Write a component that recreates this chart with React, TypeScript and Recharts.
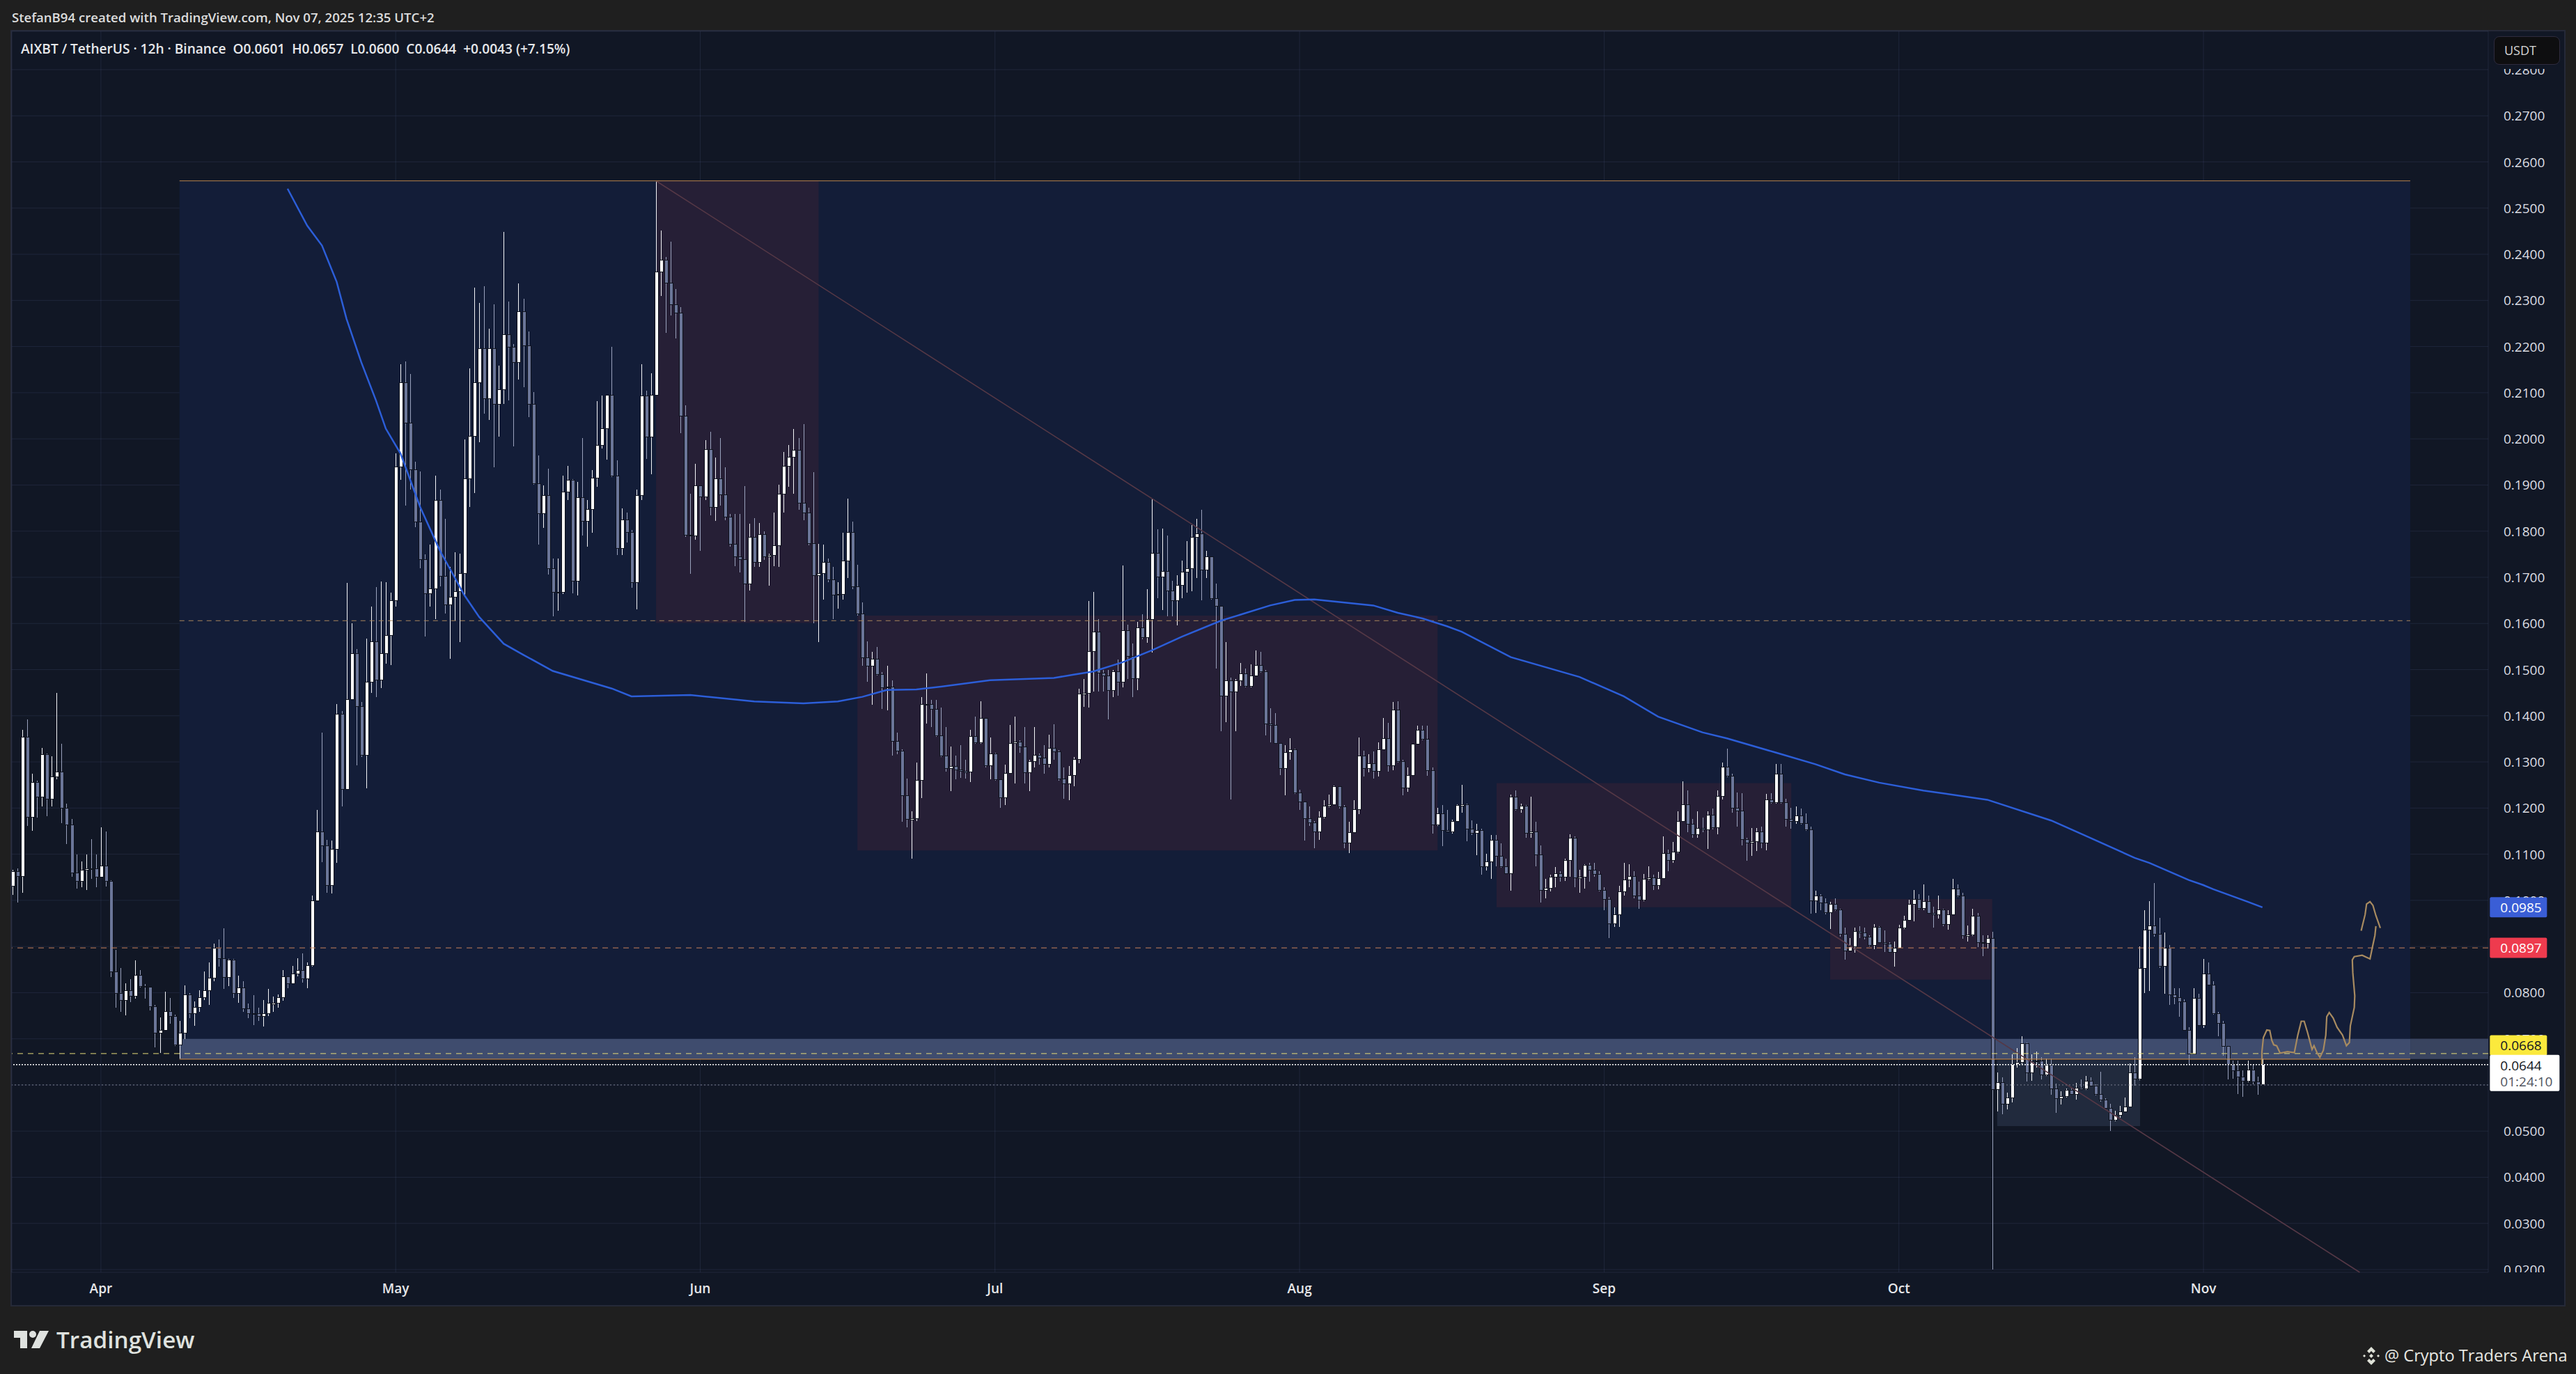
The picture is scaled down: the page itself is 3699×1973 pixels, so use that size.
import React from 'react';
import {
  ComposedChart, XAxis, YAxis, CartesianGrid, Bar, Line,
  ReferenceArea, ReferenceLine, ReferenceDot,
} from 'recharts';

// AIXBT / USDT 12h candles, one per index. open = previous close.
const firstOpen = 0.1030;
const closes = [
  .1063,.1052,.1354,.1180,.1256,.1224,.1316,.1220,.1267,.1278,
  .1200,.1164,.1060,.1042,.1066,.1069,.1068,.1051,.1074,.1042,
  .0845,.0799,.0784,.0805,.0793,.0837,.0814,.0812,.0770,.0712,
  .0719,.0759,.0748,.0686,.0712,.0796,.0755,.0768,.0789,.0804,
  .0831,.0896,.0874,.0833,.0871,.0798,.0810,.0765,.0755,.0754,
  .0748,.0755,.0777,.0777,.0790,.0834,.0820,.0840,.0848,.0830,
  .0858,.0999,.1148,.1118,.1032,.1110,.1403,.1240,.1435,.1534,
  .1420,.1315,.1473,.1560,.1477,.1534,.1574,.1650,.1939,.2121,
  .2034,.1933,.1820,.1738,.1664,.1675,.1867,.1702,.1641,.1657,
  .1669,.1709,.1914,.2005,.2121,.2195,.2087,.2195,.2075,.2107,
  .2226,.2199,.2166,.2276,.2201,.2075,.1903,.1838,.1877,.1719,
  .1668,.1668,.1885,.1910,.1691,.1872,.1821,.1847,.1915,.1986,
  .2022,.2094,.1919,.1762,.1825,.1797,.1688,.1877,.2093,.2004,
  .2095,.2361,.2388,.2338,.2290,.2272,.2049,.1792,.1789,.1899,
  .1874,.1977,.1852,.1914,.1879,.1830,.1771,.1744,.1738,.1686,
  .1787,.1732,.1793,.1744,.1747,.1768,.1881,.1940,.1960,.1975,
  .1861,.1839,.1773,.1704,.1709,.1732,.1695,.1661,.1663,.1736,
  .1798,.1680,.1621,.1525,.1508,.1522,.1489,.1461,.1463,.1345,
  .1324,.1227,.1175,.1177,.1260,.1424,.1425,.1414,.1356,.1313,
  .1285,.1291,.1282,.1279,.1278,.1355,.1342,.1394,.1292,.1317,
  .1261,.1223,.1275,.1340,.1343,.1333,.1277,.1301,.1315,.1308,
  .1295,.1330,.1322,.1263,.1253,.1271,.1305,.1447,.1448,.1540,
  .1581,.1493,.1486,.1454,.1495,.1473,.1584,.1528,.1481,.1590,
  .1570,.1608,.1752,.1700,.1713,.1671,.1649,.1682,.1712,.1719,
  .1786,.1795,.1716,.1744,.1654,.1637,.1442,.1476,.1452,.1476,
  .1491,.1464,.1486,.1509,.1496,.1383,.1380,.1340,.1285,.1320,
  .1326,.1233,.1213,.1177,.1168,.1148,.1180,.1204,.1208,.1246,
  .1202,.1125,.1147,.1197,.1313,.1285,.1296,.1279,.1327,.1350,
  .1292,.1412,.1301,.1243,.1271,.1339,.1369,.1349,.1281,.1164,
  .1188,.1152,.1149,.1171,.1206,.1207,.1154,.1146,.1151,.1073,
  .1083,.1130,.1096,.1073,.1058,.1224,.1196,.1205,.1146,.1149,
  .1099,.1022,.1026,.1051,.1058,.1051,.1086,.1135,.1049,.1050,
  .1076,.1065,.1056,.1021,.1002,.0949,.0969,.1019,.1044,.1052,
  .1009,.1001,.1046,.1049,.1032,.1047,.1101,.1087,.1104,.1171,
  .1208,.1165,.1143,.1156,.1153,.1185,.1157,.1225,.1289,.1269,
  .1200,.1194,.1132,.1124,.1128,.1148,.1124,.1218,.1212,.1274,
  .1212,.1176,.1171,.1183,.1166,.1153,.0999,.1010,.0994,.0974,
  .0992,.0979,.0927,.0891,.0899,.0932,.0930,.0920,.0903,.0941,
  .0908,.0905,.0888,.0897,.0940,.0957,.0991,.1002,.0983,.0997,
  .0972,.0969,.0979,.0947,.0969,.1024,.1010,.0923,.0925,.0966,
  .0909,.0907,.0917,.0590,.0605,.0559,.0572,.0645,.0649,.0689,
  .0627,.0650,.0652,.0622,.0643,.0591,.0571,.0575,.0588,.0580,
  .0593,.0592,.0608,.0598,.0579,.0567,.0549,.0523,.0534,.0542,
  .0553,.0626,.0613,.0852,.0935,.0945,.0926,.0857,.0896,.0796,
  .0790,.0780,.0719,.0667,.0788,.0729,.0840,.0817,.0754,.0734,
  .0683,.0645,.0631,.0617,.0608,.0633,.0606,.0601,.0644,
];
const highs = [
  .1066,.1069,.1369,.1392,.1274,.1259,.1330,.1318,.1312,.1449,
  .1339,.1209,.1176,.1099,.1085,.1100,.1132,.1100,.1158,.1149,
  .1043,.0892,.0853,.0820,.0829,.0870,.0849,.0818,.0813,.0773,
  .0746,.0802,.0788,.0752,.0738,.0816,.0799,.0781,.0805,.0846,
  .0866,.0906,.0915,.0940,.0873,.0873,.0837,.0824,.0776,.0795,
  .0767,.0784,.0808,.0792,.0796,.0849,.0836,.0858,.0874,.0885,
  .0866,.1010,.1196,.1363,.1131,.1129,.1426,.1410,.1688,.1600,
  .1545,.1430,.1567,.1636,.1679,.1691,.1690,.1667,.1968,.2161,
  .2168,.2141,.1950,.1930,.1750,.1771,.1921,.1890,.1827,.1722,
  .1755,.1751,.1998,.2152,.2327,.2294,.2330,.2238,.2291,.2159,
  .2448,.2298,.2206,.2337,.2303,.2233,.2101,.1964,.1899,.1935,
  .1740,.1740,.1921,.1942,.1913,.1906,.2002,.1867,.1933,.2082,
  .2094,.2095,.2199,.1953,.1849,.1840,.1802,.1890,.2161,.2105,
  .2142,.2558,.2451,.2394,.2428,.2325,.2285,.2072,.1881,.1946,
  .1899,.1997,.2015,.1959,.2002,.1939,.1838,.1838,.1838,.1897,
  .1816,.1828,.1818,.1800,.1751,.1840,.1901,.1971,.1986,.2022,
  .2002,.2032,.1851,.1928,.1773,.1771,.1740,.1722,.1690,.1797,
  .1871,.1821,.1727,.1646,.1561,.1538,.1549,.1495,.1508,.1476,
  .1364,.1327,.1264,.1193,.1299,.1440,.1492,.1435,.1435,.1418,
  .1375,.1333,.1314,.1336,.1305,.1369,.1398,.1431,.1395,.1353,
  .1320,.1262,.1294,.1380,.1398,.1347,.1375,.1305,.1375,.1318,
  .1336,.1359,.1382,.1326,.1288,.1291,.1310,.1459,.1479,.1649,
  .1668,.1609,.1499,.1499,.1499,.1522,.1726,.1597,.1557,.1603,
  .1620,.1675,.1869,.1804,.1805,.1791,.1693,.1704,.1736,.1778,
  .1813,.1827,.1846,.1757,.1745,.1687,.1638,.1559,.1482,.1479,
  .1514,.1502,.1511,.1541,.1539,.1499,.1416,.1405,.1340,.1337,
  .1352,.1329,.1239,.1213,.1204,.1172,.1193,.1217,.1229,.1249,
  .1248,.1207,.1170,.1217,.1353,.1324,.1317,.1323,.1343,.1395,
  .1384,.1430,.1432,.1305,.1288,.1340,.1378,.1378,.1378,.1288,
  .1201,.1207,.1196,.1175,.1208,.1250,.1209,.1173,.1166,.1155,
  .1101,.1141,.1141,.1123,.1091,.1229,.1238,.1210,.1207,.1224,
  .1170,.1119,.1047,.1055,.1072,.1063,.1091,.1143,.1138,.1066,
  .1079,.1082,.1082,.1063,.1029,.1007,.0985,.1032,.1081,.1078,
  .1063,.1041,.1057,.1074,.1055,.1061,.1139,.1110,.1126,.1193,
  .1258,.1238,.1176,.1193,.1179,.1193,.1199,.1238,.1298,.1329,
  .1274,.1233,.1232,.1136,.1157,.1157,.1160,.1230,.1232,.1295,
  .1295,.1220,.1201,.1204,.1199,.1188,.1160,.1021,.1013,.1004,
  .0997,.1004,.0982,.0941,.0919,.0941,.0944,.0941,.0925,.0948,
  .0944,.0935,.0910,.0911,.0947,.0966,.1002,.1022,.1013,.1035,
  .1010,.0986,.1010,.0982,.0979,.1047,.1035,.1016,.0945,.0982,
  .0973,.0924,.0924,.0932,.0627,.0617,.0584,.0667,.0680,.0705,
  .0692,.0667,.0672,.0660,.0657,.0657,.0603,.0587,.0592,.0592,
  .0604,.0612,.0620,.0617,.0602,.0628,.0571,.0559,.0544,.0554,
  .0572,.0647,.0660,.0900,.0978,.0998,.1037,.0962,.0931,.0903,
  .0809,.0809,.0786,.0725,.0809,.0798,.0873,.0865,.0824,.0758,
  .0738,.0685,.0652,.0653,.0632,.0653,.0645,.0618,.0657,
];
const lows = [
  .1012,.0995,.1017,.1161,.1150,.1179,.1204,.1183,.1204,.1262,
  .1168,.1122,.1051,.1025,.1029,.1023,.1047,.1029,.1050,.1030,
  .0834,.0768,.0759,.0751,.0780,.0787,.0811,.0787,.0762,.0681,
  .0669,.0719,.0733,.0685,.0657,.0699,.0745,.0728,.0758,.0784,
  .0774,.0824,.0857,.0808,.0814,.0789,.0778,.0758,.0745,.0730,
  .0738,.0726,.0749,.0759,.0768,.0782,.0809,.0819,.0835,.0822,
  .0809,.0857,.1002,.1083,.1016,.1015,.1082,.1203,.1240,.1434,
  .1293,.1310,.1242,.1450,.1440,.1460,.1513,.1510,.1636,.1911,
  .1856,.1890,.1809,.1719,.1571,.1637,.1610,.1680,.1621,.1524,
  .1607,.1560,.1657,.1852,.1882,.1993,.2054,.2041,.1939,.2005,
  .2076,.2083,.1984,.2128,.2112,.2047,.1901,.1771,.1807,.1706,
  .1616,.1628,.1663,.1867,.1666,.1661,.1791,.1767,.1796,.1896,
  .1979,.1955,.1917,.1749,.1749,.1776,.1677,.1630,.1867,.1957,
  .1923,.2095,.2309,.2230,.2267,.2217,.2013,.1787,.1708,.1781,
  .1758,.1867,.1834,.1822,.1856,.1823,.1766,.1724,.1711,.1603,
  .1672,.1722,.1722,.1737,.1682,.1724,.1722,.1841,.1896,.1881,
  .1846,.1823,.1769,.1601,.1560,.1652,.1690,.1610,.1632,.1652,
  .1698,.1675,.1617,.1508,.1473,.1424,.1487,.1415,.1412,.1314,
  .1317,.1170,.1158,.1091,.1172,.1222,.1383,.1375,.1355,.1311,
  .1279,.1236,.1262,.1265,.1264,.1256,.1340,.1340,.1288,.1262,
  .1259,.1200,.1206,.1274,.1253,.1320,.1253,.1236,.1288,.1294,
  .1274,.1288,.1305,.1260,.1220,.1217,.1248,.1297,.1420,.1418,
  .1453,.1453,.1453,.1392,.1441,.1444,.1461,.1479,.1441,.1456,
  .1565,.1558,.1537,.1655,.1629,.1616,.1616,.1596,.1655,.1667,
  .1670,.1698,.1650,.1698,.1652,.1502,.1366,.1386,.1219,.1366,
  .1464,.1461,.1461,.1485,.1493,.1357,.1343,.1339,.1271,.1227,
  .1305,.1230,.1196,.1130,.1161,.1113,.1131,.1178,.1202,.1207,
  .1199,.1113,.1102,.1147,.1187,.1268,.1278,.1264,.1268,.1327,
  .1279,.1282,.1298,.1227,.1235,.1270,.1339,.1347,.1270,.1144,
  .1161,.1118,.1147,.1144,.1170,.1190,.1128,.1141,.1098,.1055,
  .1064,.1047,.1073,.1071,.1057,.1021,.1195,.1190,.1135,.1136,
  .1073,.0996,.1005,.1019,.1029,.1041,.1042,.1051,.1029,.1016,
  .1026,.1041,.1051,.1019,.0979,.0919,.0942,.0943,.1011,.1029,
  .1005,.0982,.0999,.1044,.1022,.1024,.1046,.1063,.1082,.1102,
  .1171,.1148,.1135,.1136,.1148,.1111,.1154,.1143,.1218,.1267,
  .1190,.1160,.1119,.1086,.1096,.1107,.1113,.1109,.1210,.1210,
  .1209,.1160,.1155,.1166,.1165,.1151,.0971,.0972,.0979,.0969,
  .0938,.0977,.0922,.0871,.0890,.0886,.0919,.0916,.0900,.0894,
  .0907,.0888,.0886,.0857,.0897,.0938,.0957,.0954,.0980,.0979,
  .0971,.0941,.0960,.0944,.0937,.0969,.1007,.0917,.0911,.0923,
  .0899,.0879,.0895,.0200,.0542,.0537,.0547,.0562,.0637,.0645,
  .0607,.0609,.0637,.0612,.0620,.0579,.0539,.0557,.0572,.0579,
  .0568,.0589,.0589,.0597,.0578,.0564,.0548,.0500,.0522,.0529,
  .0541,.0552,.0599,.0611,.0799,.0804,.0921,.0854,.0797,.0774,
  .0775,.0748,.0718,.0645,.0666,.0728,.0723,.0816,.0753,.0705,
  .0663,.0612,.0613,.0581,.0574,.0606,.0601,.0579,.0600,
];

// slow moving average, read at its visible bends
const maKeys = [
  56,60,63,66,68,71,74,76,79,83,87,92,95,100,104,110,122,126,138,151,161,168,173,178,184,189,199,
  212,216,220,226,232,238,246,256,261,265,277,282,287,292,295,305,319,328,335,344,349,359,367,373,
  380,389,402,415,422,432,435,443,446,448,455,458,
];
const maValues = [
  .2542,.2462,.2419,.2340,.2260,.2166,.2083,.2022,.1968,.1852,.1758,.1661,.1614,.1556,.1532,.1497,.1459,.1442,.1445,.1431,.1427,.1431,.1441,.1456,.1457,.1463,.1477,
  .1482,.1489,.1496,.1516,.1542,.1571,.1606,.1639,.1651,.1652,.1639,.1623,.1611,.1594,.1582,.1527,.1484,.1442,.1398,.1364,.1351,.1320,.1295,.1273,
  .1255,.1238,.1218,.1173,.1140,.1092,.1081,.1044,.1033,.1024,.0997,.0985,
];

// hand drawn projection and its arrow head
const sketchKeys = [
  457.9,457.9,458.2,458.9,459.5,459.9,460.3,460.9,461.6,463.1,464.5,465.2,465.9,466.5,467.2,468.1,468.5,469.1,469.7,470.4,
  470.9,471.1,471.6,472.4,473.2,474.3,475.1,475.7,475.9,476.7,476.8,476.4,476.3,476.7,478.3,479.9,480.4,480.9,481.1,
];
const sketchValues = [
  .0645,.0672,.0703,.0719,.0718,.0697,.0687,.0685,.0669,.0672,.0670,.0708,.0738,.0738,.0713,.0677,.0685,.0670,.0660,.0675,
  .0708,.0748,.0757,.0745,.0725,.0708,.0685,.0692,.0728,.0768,.0793,.0843,.0871,.0878,.0881,.0873,.0899,.0924,.0944,
];
const arrowKeys = [478.1,478.9,479.2,479.9,480.5,481.1,482];
const arrowValues = [.0934,.0969,.0992,.0997,.0989,.0967,.0940];

const priceTicks = [
  .02,.03,.04,.05,.06,.07,.08,.09,.10,.11,.12,.13,.14,.15,.16,.17,.18,.19,.20,.21,.22,.23,.24,.25,.26,.27,.28,
];
const monthKeys = [18,78,140,200,262,324,384,446];
const monthLabels = ['Apr','May','Jun','Jul','Aug','Sep','Oct','Nov'];

// drawn zones: [from candle, to candle, top price, bottom price]
const pinkBoxes = [
  [131,164.1,.2559,.1601],
  [172,290.1,.1617,.1108],
  [302.1,362.1,.1254,.0985],
  [370,403,.1003,.0828],
];

const rows = closes.map((close, k) => ({
  k,
  open: k === 0 ? firstOpen : closes[k - 1],
  close,
  high: highs[k],
  low: lows[k],
  range: [lows[k], highs[k]],
}));
const maRows = maKeys.map((k, i) => ({ k, ma: maValues[i] }));
const sketchRows = sketchKeys.map((k, i) => ({ k, sketch: sketchValues[i] }));
const arrowRows = arrowKeys.map((k, i) => ({ k, sketch: arrowValues[i] }));

const FONT = '"Open Sans", sans-serif';
const AXIS_START = 504.3; // candle position of the price axis edge

function Candle(props: any) {
  const { x, y, width, height, payload } = props;
  const { open, close, high, low } = payload;
  const pxPerPrice = height / Math.max(high - low, 1e-6);
  const toY = (v: number) => y + (high - v) * pxPerPrice;
  const up = close >= open;
  const cx = Math.round(x + width / 2);
  const top = toY(Math.max(open, close));
  const bodyH = Math.max(Math.abs(open - close) * pxPerPrice, 1.5);
  return (
    <g shapeRendering="crispEdges">
      <rect x={cx} y={y} width={1} height={height} fill={up ? '#f4f5f8' : '#9aa2bd'} />
      <rect
        x={cx - 2} y={top} width={5} height={bodyH}
        fill={up ? '#ffffff' : '#6b7699'} stroke="#0e121c" strokeWidth={1}
      />
    </g>
  );
}

function PriceTick(props: any) {
  const { x, y, payload } = props;
  return (
    <text
      x={x} y={y} dy={7} fill="#dcdee3" fontSize={19} fontFamily={FONT}
      clipPath="url(#priceClip)"
    >
      {payload.value.toFixed(4)}
    </text>
  );
}

function tag(fill: string, color: string, text: string, shift = 0) {
  return (p: any) => (
    <g>
      <rect x={p.cx} y={p.cy - 14.5 + shift} width={82} height={29} rx={2} fill={fill} />
      <text x={p.cx + 15} y={p.cy + 7 + shift} fill={color} fontSize={19} fontFamily={FONT}>{text}</text>
    </g>
  );
}

function lastPriceTag(p: any) {
  return (
    <g>
      <rect x={p.cx} y={p.cy - 14} width={100} height={52} rx={2} fill="#ffffff" />
      <text x={p.cx + 15} y={p.cy + 8} fill="#131722" fontSize={19} fontFamily={FONT}>0.0644</text>
      <text x={p.cx + 15} y={p.cy + 31} fill="#50535e" fontSize={19} fontFamily={FONT}>01:24:10</text>
    </g>
  );
}

const overlayText: React.CSSProperties = {
  position: 'absolute', fontFamily: FONT, whiteSpace: 'pre', lineHeight: 1,
};

export default function App() {
  return (
    <div style={{ position: 'absolute', left: 0, top: 0, width: 3699, height: 1973, background: '#1f1f1f', overflow: 'hidden' }}>
      <div style={{
        position: 'absolute', left: 15, top: 43, width: 3665, height: 1829,
        background: '#111725', border: '2px solid #252938',
      }} />

      <ComposedChart
        width={3699} height={1973} data={rows}
        margin={{ top: 45, right: 17, bottom: 99, left: 17 }}
        style={{ position: 'absolute', left: 0, top: 0 }}
      >
        <defs>
          {/* tick labels are hidden behind the price tags and the USDT button */}
          <clipPath id="priceClip">
            <rect x={3573} y={99} width={109} height={1190} />
            <rect x={3573} y={1318} width={109} height={29} />
            <rect x={3573} y={1376} width={109} height={111} />
            <rect x={3573} y={1567} width={109} height={260} />
          </clipPath>
        </defs>

        <ReferenceArea x1={34} x2={488.1} y1={.2559} y2={.0656} fill="#131d38" fillOpacity={1} stroke="none" ifOverflow="visible" />
        {pinkBoxes.map((b, i) => (
          <ReferenceArea key={i} x1={b[0]} x2={b[1]} y1={b[2]} y2={b[3]} fill="#261f36" fillOpacity={1} stroke="none" ifOverflow="visible" />
        ))}
        <ReferenceArea x1={404} x2={433.1} y1={.0654} y2={.0511} fill="#212a3d" fillOpacity={1} stroke="none" ifOverflow="visible" />
        <ReferenceArea x1={34} x2={488.1} y1={.07} y2={.0656} fill="#3f4c6e" fillOpacity={1} stroke="none" ifOverflow="visible" />
        <ReferenceArea x1={488.1} x2={503.97} y1={.07} y2={.0656} fill="#39445f" fillOpacity={1} stroke="none" ifOverflow="visible" />

        <CartesianGrid stroke="#8296d2" strokeOpacity={0.12} strokeWidth={1} />

        <XAxis
          dataKey="k" type="number" domain={[-0.13, 503.97]} allowDataOverflow
          ticks={monthKeys} height={47} axisLine={false} tickLine={false} tickMargin={11}
          interval={0}
          tick={{ fill: '#e6e7ea', fontSize: 19, fontFamily: FONT, fontWeight: 600 }}
          tickFormatter={(v: number) => monthLabels[monthKeys.indexOf(v)]}
        />
        <YAxis
          orientation="right" domain={[0.0194, 0.2883]} allowDataOverflow
          ticks={priceTicks} width={109} axisLine={false} tickLine={false} tickMargin={16}
          interval={0} tick={PriceTick}
        />

        <ReferenceLine segment={[{ x: 131, y: .2559 }, { x: 477.8, y: .0194 }]} stroke="#553846" strokeWidth={1.6} ifOverflow="visible" />
        <ReferenceLine segment={[{ x: 34, y: .2559 }, { x: 488.1, y: .2559 }]} stroke="#b9834e" strokeWidth={1} ifOverflow="visible" />
        <ReferenceLine segment={[{ x: 34, y: .0656 }, { x: 488.1, y: .0656 }]} stroke="#b9834e" strokeWidth={1.2} ifOverflow="visible" />
        <ReferenceLine segment={[{ x: 34, y: .1606 }, { x: 488.1, y: .1606 }]} stroke="#a8855c" strokeWidth={1} strokeDasharray="7 6" ifOverflow="visible" />
        <ReferenceLine y={.0897} stroke="#c9825a" strokeWidth={1} strokeDasharray="8 7" />
        <ReferenceLine y={.0668} stroke="#e6dd78" strokeWidth={1} strokeDasharray="8 7" />

        <Line data={maRows} dataKey="ma" stroke="#2c5ed8" strokeWidth={2.5} dot={false} isAnimationActive={false} type="linear" />

        <Bar dataKey="range" barSize={6} shape={Candle} isAnimationActive={false} />

        <ReferenceLine y={.0644} stroke="#ffffff" strokeWidth={1.5} strokeDasharray="2 2" />
        <ReferenceLine y={.06} stroke="#7b8090" strokeWidth={1} strokeDasharray="2 3" />

        <Line data={sketchRows} dataKey="sketch" stroke="#a88b60" strokeWidth={2.2} dot={false} isAnimationActive={false} type="linear" />
        <Line data={arrowRows} dataKey="sketch" stroke="#a88b60" strokeWidth={2.2} dot={false} isAnimationActive={false} type="linear" />

        <ReferenceDot x={AXIS_START} y={.0985} ifOverflow="visible" shape={tag('#3a5ed6', '#ffffff', '0.0985')} />
        <ReferenceDot x={AXIS_START} y={.0897} ifOverflow="visible" shape={tag('#ee3b4e', '#ffffff', '0.0897')} />
        <ReferenceDot x={AXIS_START} y={.0668} ifOverflow="visible" shape={tag('#fbe93c', '#131722', '0.0668', -12)} />
        <ReferenceDot x={AXIS_START} y={.0644} ifOverflow="visible" shape={lastPriceTag} />
      </ComposedChart>

      <div style={{ ...overlayText, left: 17, top: 16, fontSize: 18.6, fontWeight: 600, color: '#dcdcdc' }}>
        StefanB94 created with TradingView.com, Nov 07, 2025 12:35 UTC+2
      </div>
      <div style={{ ...overlayText, left: 30, top: 61, fontSize: 19.1, fontWeight: 600, color: '#e6e7ea' }}>
        {'AIXBT / TetherUS · 12h · Binance  O0.0601  H0.0657  L0.0600  C0.0644  +0.0043 (+7.15%)'}
      </div>

      <div style={{
        position: 'absolute', left: 3581, top: 52, width: 93, height: 39, background: '#0e0e10',
        border: '1px solid #2e2b3d', borderRadius: 8,
      }} />
      <div style={{ ...overlayText, left: 3596, top: 63, fontSize: 18, color: '#d5d5d5' }}>USDT</div>

      <svg style={{ position: 'absolute', left: 20, top: 1910 }} width={50} height={28}>
        <path d="M0 1H19V26H9V11H0Z" fill="#dfe2df" />
        <circle cx={27} cy={6} r={5} fill="#dfe2df" />
        <path d="M37 1H50L37 26H25Z" fill="#dfe2df" />
      </svg>
      <div style={{ ...overlayText, left: 81, top: 1907, fontSize: 33.3, fontWeight: 600, color: '#dfe2df' }}>TradingView</div>

      <svg style={{ position: 'absolute', left: 3391, top: 1933 }} width={28} height={28}>
        <g fill="#dfe2d8">
          <path d="M14 1L20 7L17 10L14 7L11 10L8 7Z" />
          <path d="M14 27L20 21L17 18L14 21L11 18L8 21Z" />
          <path d="M14 11L17 14L14 17L11 14Z" />
          <path d="M4 12L6 14L4 16L2 14Z" />
          <path d="M24 12L26 14L24 16L22 14Z" />
        </g>
      </svg>
      <div style={{ ...overlayText, left: 3424, top: 1935, fontSize: 23.6, color: '#e8e8e2' }}>@ Crypto Traders Arena</div>
    </div>
  );
}
